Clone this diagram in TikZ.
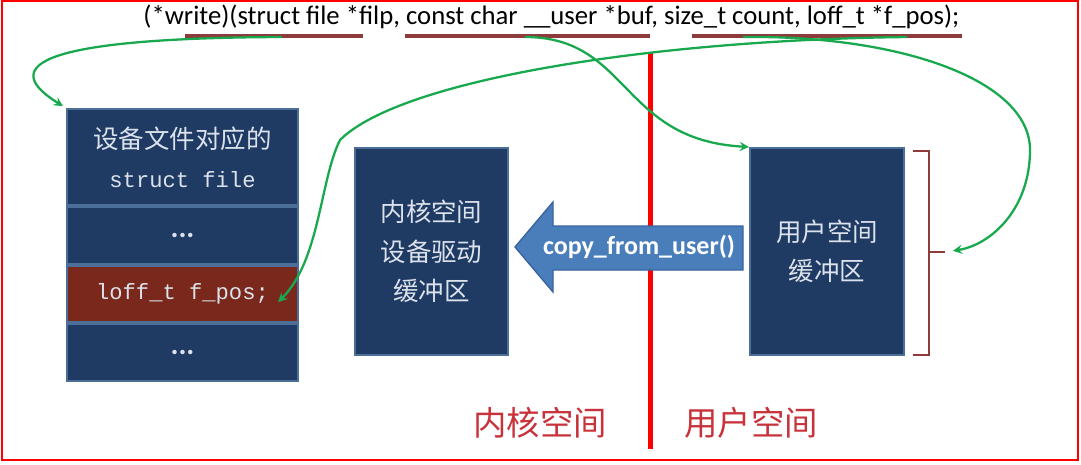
\documentclass[tikz,border=0pt]{standalone}
\usepackage{fontspec}
\setmainfont{Carlito}
\setmonofont{Liberation Mono}
\newfontfamily\cjk{Noto Sans CJK SC}
\usepackage{tikz}
\usetikzlibrary{positioning, arrows}
\definecolor{navy}{HTML}{1F3B63}
\definecolor{navyedge}{HTML}{4C6F9A}
\definecolor{boxtext}{HTML}{DCE2EC}
\definecolor{posred}{HTML}{7A281C}
\definecolor{flowgreen}{HTML}{18A94F}
\definecolor{ulinered}{HTML}{8E3B3B}
\definecolor{arrowblue}{HTML}{4A7EBB}
\definecolor{arrowedge}{HTML}{3A64A0}
\definecolor{labelred}{HTML}{C8323A}
\tikzset{
    x=0.02cm, y=-0.02cm, % one unit is one pixel, y runs downwards
    >=stealth, % arrow heads of the green curves
    box/.style={fill=navy, draw=navyedge, line width=1.2pt, text=boxtext, inner sep=0pt, align=center},
    cjkfont/.style={font=\cjk\fontsize{14.5}{22.4}\selectfont},
    monofont/.style={font=\ttfamily\fontsize{12.6}{14}\selectfont},
    dotsfont/.style={font=\bfseries\fontsize{17}{17}\selectfont},
    flow/.style={->, draw=flowgreen, line width=1.3pt}, % green curves
    uline/.style={draw=ulinered, line width=0.07cm}, % marks under the arguments
    spacelabel/.style={text=labelred, font=\cjk\fontsize{19}{19}\selectfont},
}

\begin{document}
\begin{tikzpicture}
\useasboundingbox (0,0) rectangle (1081,464);
\draw[red, line width=0.04cm] (2,1) rectangle (1078,460);

% the prototype and its arguments
\node[font=\fontsize{15.2}{15.2}\selectfont] (sig) at (551.5,17) {(*write)(struct file *filp, const char \_\_user *buf, size\_t count, loff\_t *f\_pos);};
\draw[uline] (185,36) -- (363,36);
\draw[uline] (405,36) -- (650,36);
\draw[uline] (692,36) -- (962,36);
\coordinate (u-filp) at (282,37);
\coordinate (u-buf) at (525,37);
\coordinate (u-count) at (743,37);
\coordinate (u-pos) at (907,37);

% kernel / user divider
\coordinate (divtop) at (650,53);
\coordinate (divbot) at (650,449);
\draw[red, line width=0.1cm] (divtop) -- (divbot);

% struct file
\node[box, cjkfont, minimum width=4.62cm, minimum height=1.92cm] (head) at (182.5,157) {设备文件对应的\\{\ttfamily\fontsize{12.6}{14}\selectfont struct file}};
\node[box, dotsfont, minimum width=4.62cm, minimum height=1.14cm, below=0pt of head] (dots1) {...};
\node[box, monofont, fill=posred, minimum width=4.62cm, minimum height=1.12cm, below=0pt of dots1] (posrow) {loff\_t f\_pos;};
\node[box, dotsfont, minimum width=4.62cm, minimum height=1.14cm, below=0pt of posrow] (dots2) {...};

% buffers
\node[box, cjkfont, minimum width=3.06cm, minimum height=4.14cm] (kbuf) at (431.5,251.5) {内核空间\\设备驱动\\缓冲区};
\node[box, cjkfont, minimum width=3.08cm, minimum height=4.14cm] (ubuf) at (827,251.5) {用户空间\\缓冲区};
\draw[ulinered, line width=0.05cm] (913,151) -- (929,151) -- (929,355) -- (913,355);
\coordinate (brace) at (945,252);
\draw[ulinered, line width=0.05cm] (929,252) -- (brace);

% copy_from_user()
\draw[fill=arrowblue, draw=arrowedge, line width=0.8pt] (743,226) -- (553,226) -- (553,202) -- (515,247) -- (553,292) -- (553,270) -- (743,270) -- cycle;
\node[text=white, font=\bfseries\fontsize{14.8}{14.8}\selectfont] (copy) at (639,247) {copy\_from\_user()};

\node[spacelabel] (klabel) at (540,423) {内核空间};
\node[spacelabel] (ulabel) at (751,423) {用户空间};

% where each argument goes
\draw[flow, shorten >=2pt] (u-filp) .. controls (20,38) and (5,70) .. (head.north west);
\draw[flow] (u-buf) .. controls (630,37) and (620,140) .. (ubuf.north west);
\draw[flow, shorten >=0.16cm] (u-count) .. controls (900,35) and (1030,80) .. (1030,150) .. controls (1030,210) and (990,245) .. (brace);
\draw[flow] (u-pos) .. controls (650,40) and (400,80) .. (340,140) .. controls (320,180) and (320,260) .. ([xshift=-0.42cm, yshift=-0.16cm]posrow.east);
\end{tikzpicture}
\end{document}
